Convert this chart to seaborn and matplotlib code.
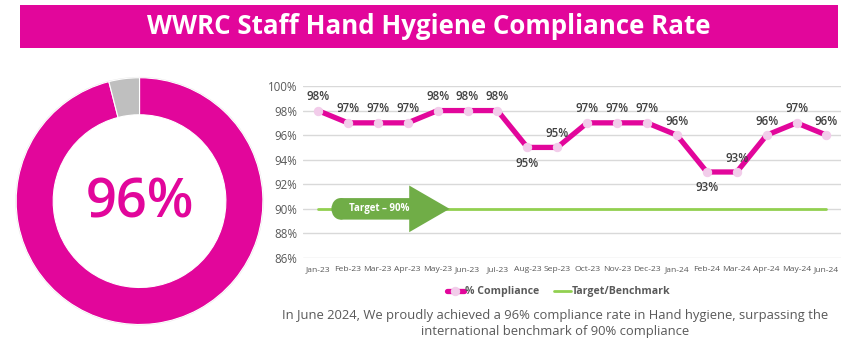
import pandas as pd
import numpy as np
import matplotlib.pyplot as plt
import seaborn as sns
from matplotlib.patches import FancyArrow, FancyBboxPatch, Ellipse, Circle

# chart data
months = ['Jan-23', 'Feb-23', 'Mar-23', 'Apr-23', 'May-23', 'Jun-23', 'Jul-23', 'Aug-23', 'Sep-23',
          'Oct-23', 'Nov-23', 'Dec-23', 'Jan-24', 'Feb-24', 'Mar-24', 'Apr-24', 'May-24', 'Jun-24']
compliance = [0.98, 0.97, 0.97, 0.97, 0.98, 0.98, 0.98, 0.95, 0.95,
              0.97, 0.97, 0.97, 0.96, 0.93, 0.93, 0.96, 0.97, 0.96]
target = [0.90] * len(months)
current_rate = 0.96
yticks = [0.86, 0.88, 0.90, 0.92, 0.94, 0.96, 0.98, 1.00]

MAGENTA = '#E2069B'
PINK = '#F2CCEA'
GREEN = '#92D050'
GRAY_TXT = '#595959'

df = pd.DataFrame({'month': months, 'idx': range(len(months)),
                   'compliance': compliance, 'target': target})

sns.set_style('white')
plt.rcParams['font.family'] = ['Open Sans', 'DejaVu Sans']

fig = plt.figure(figsize=(8.56, 3.51), dpi=100)

# title banner
banner = FancyBboxPatch((0.023, 0.863), 0.956, 0.123, boxstyle='square,pad=0',
                        transform=fig.transFigure, fc=MAGENTA, ec='none')
fig.patches.append(banner)
fig.text(0.501, 0.925, 'WWRC Staff Hand Hygiene Compliance Rate', color='white',
         fontsize=18.6, fontweight='bold', ha='center', va='center')

# donut
dax = fig.add_axes([0.016, 0.068, 0.294, 0.718])
dax.pie([current_rate, 1 - current_rate], colors=[MAGENTA, '#BFBFBF'], startangle=90,
        counterclock=False, radius=1, wedgeprops=dict(width=0.3, edgecolor='white', linewidth=0.8))
dax.add_patch(Circle((0, 0), 1.0, fc='none', ec='#E4E4E4', lw=1.2, zorder=0))
dax.set_xlim(-1.02, 1.02)
dax.set_ylim(-1.02, 1.02)
dax.set_aspect('equal')
dax.text(0, -0.02, f'{current_rate:.0%}', color=MAGENTA, fontsize=39,
         fontweight='semibold', ha='center', va='center')

# line chart
ax = fig.add_axes([0.354, 0.265, 0.629, 0.490])
sns.lineplot(data=df, x='idx', y='target', ax=ax, color=GREEN, linewidth=2,
             label='Target/Benchmark', zorder=2)
sns.lineplot(data=df, x='idx', y='compliance', ax=ax, color=MAGENTA, linewidth=3.8,
             marker='o', markersize=6, markerfacecolor=PINK, markeredgecolor=PINK,
             label='% Compliance', zorder=3)

below = {'Aug-23', 'Feb-24'}
for i, (m, v) in enumerate(zip(months, compliance)):
    off = -11.5 if m in below else 10
    ax.annotate(f'{v:.0%}', (i, v), xytext=(0, off), textcoords='offset points',
                ha='center', va='center', fontsize=8.3, color='#404040', fontweight='semibold')

# target arrow
ax.add_patch(FancyArrow(0.75, 0.90, 2.3, 0, width=0.0175, head_width=0.038,
                        head_length=1.35, length_includes_head=False,
                        fc='#70AD47', ec='none', zorder=4))
ax.add_patch(Ellipse((0.75, 0.90), 0.6, 0.0175, fc='#70AD47', ec='none', zorder=4))
ax.text(2.05, 0.90, 'Target – 90%', color='white', fontsize=7, fontweight='bold',
        ha='center', va='center', zorder=5)

ax.set_xlim(-0.5, len(months) - 0.5)
ax.set_ylim(0.86, 1.00)
ax.set_yticks(yticks)
ax.set_yticklabels([f'{t:.0%}' for t in yticks])
ax.set_xticks(range(len(months)))
ax.set_xticklabels(months)
ax.tick_params(axis='y', labelsize=8.3, labelcolor=GRAY_TXT, length=0, pad=4)
ax.tick_params(axis='x', labelsize=6.1, labelcolor=GRAY_TXT, length=0, pad=6)
ax.grid(axis='y', color='#D9D9D9', linewidth=1)
ax.set_xlabel('')
ax.set_ylabel('')
for s in ax.spines.values():
    s.set_visible(False)

handles, labels = ax.get_legend_handles_labels()
leg = ax.legend(handles[::-1], labels[::-1], loc='upper center', bbox_to_anchor=(0.475, -0.11),
                ncol=2, frameon=False, fontsize=7.6, handlelength=1.6, columnspacing=1.4,
                handletextpad=0.1)
for t in leg.get_texts():
    t.set_color(GRAY_TXT)
    t.set_fontweight('bold')

fig.text(0.648, 0.077, 'In June 2024, We proudly achieved a 96% compliance rate in Hand hygiene, surpassing the\n'
         'international benchmark of 90% compliance', color=GRAY_TXT, fontsize=9.4,
         ha='center', va='center', linespacing=1.3)

fig.savefig('out.png', dpi=100)
